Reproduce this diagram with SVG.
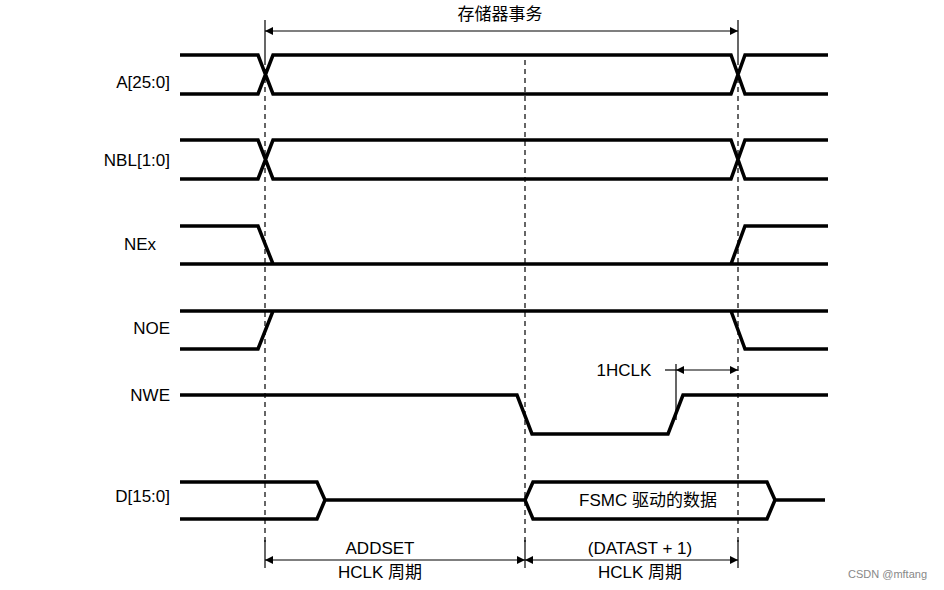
<svg xmlns="http://www.w3.org/2000/svg" width="944" height="590" viewBox="0 0 944 590">
<style>
.s{fill:none;stroke:#000;stroke-width:3.5;stroke-linejoin:miter}
.d{fill:none;stroke:#000;stroke-width:1.2;stroke-dasharray:5,4}
.a{fill:none;stroke:#000;stroke-width:1.2}
.t{font-family:"Liberation Sans","Noto Sans CJK SC",sans-serif;font-size:17px;fill:#000}
.l{text-anchor:end}
.c{text-anchor:middle}
</style>
<defs>
<marker id="ah" viewBox="0 0 10 10" refX="10" refY="5" markerWidth="10" markerHeight="8" markerUnits="userSpaceOnUse" orient="auto-start-reverse"><path d="M0,0L10,5L0,10z" fill="#000"/></marker>
</defs>
<rect width="944" height="590" fill="#fff"/>
<g id="labels" class="t">
<text class="l" x="170" y="88">A[25:0]</text>
<text class="l" x="170" y="166">NBL[1:0]</text>
<text class="l" x="156" y="250">NEx</text>
<text class="l" x="170" y="334">NOE</text>
<text class="l" x="170" y="401">NWE</text>
<text class="l" x="170" y="502">D[15:0]</text>
</g>
<g id="guides">
<line class="d" x1="265" y1="60" x2="265" y2="545"/>
<line class="d" x1="525" y1="60" x2="525" y2="545"/>
<line class="d" x1="738" y1="60" x2="738" y2="545"/>
</g>
<g id="A"><path class="s" d="M180,55H258L273,94H731L745,55H828M180,94H258L273,55H731L745,94H828"/></g>
<g id="NBL"><path class="s" d="M180,140H258L273,179H731L745,140H828M180,179H258L273,140H731L745,179H828"/></g>
<g id="NEx"><path class="s" d="M180,226H258L273,264H731L745,226H828M180,264H828"/></g>
<g id="NOE"><path class="s" d="M180,349H258L273,311H731L745,349H828M180,311H828"/></g>
<g id="NWE"><path class="s" d="M180,395H517L532,434H668L683,395H828"/></g>
<g id="D"><path class="s" d="M180,482H317L325,500L317,519H180M325,500H525L533,482H767L775,500L767,519H533L525,500M775,500H825"/>
<text class="t c" x="648" y="506">FSMC 驱动的数据</text></g>
<g id="connectors">
<line class="a" x1="265" y1="20" x2="265" y2="60"/>
<line class="a" x1="738" y1="20" x2="738" y2="60"/>
<line class="a" x1="265" y1="31" x2="738" y2="31" marker-start="url(#ah)" marker-end="url(#ah)"/>
<line class="a" x1="676" y1="364" x2="676" y2="420"/>
<line class="a" x1="665" y1="370" x2="676" y2="370"/>
<line class="a" x1="676" y1="370" x2="738" y2="370" marker-start="url(#ah)" marker-end="url(#ah)"/>
<line class="a" x1="265" y1="540" x2="265" y2="568"/>
<line class="a" x1="525" y1="540" x2="525" y2="568"/>
<line class="a" x1="738" y1="540" x2="738" y2="568"/>
<line class="a" x1="265" y1="560" x2="525" y2="560" marker-start="url(#ah)" marker-end="url(#ah)"/>
<line class="a" x1="525" y1="560" x2="738" y2="560" marker-start="url(#ah)" marker-end="url(#ah)"/>
</g>
<g id="texts" class="t">
<text class="c" x="500" y="20">存储器事务</text>
<text class="c" x="624" y="376">1HCLK</text>
<text class="c" x="380" y="554">ADDSET</text>
<text class="c" x="380" y="578">HCLK 周期</text>
<text class="c" x="640" y="554">(DATAST + 1)</text>
<text class="c" x="640" y="578">HCLK 周期</text>
<text x="848" y="578" style="font-family:'Liberation Sans',sans-serif;font-size:11px;fill:#888">CSDN @mftang</text>
</g>
</svg>
